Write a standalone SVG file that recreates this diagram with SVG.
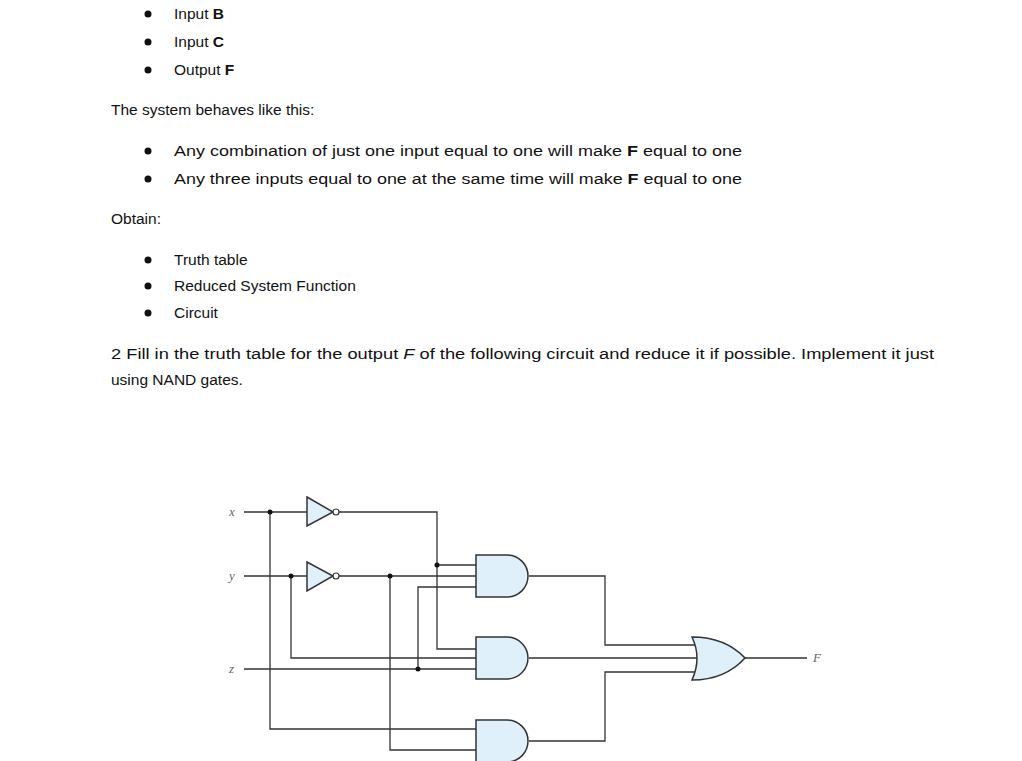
<svg xmlns="http://www.w3.org/2000/svg" width="1022" height="761" viewBox="0 0 1022 761">
<style>
.t{font-family:"Liberation Sans",Arial,sans-serif;font-size:15.5px;fill:#111}
.b{font-weight:bold}
.lbl{font-family:"Liberation Serif",serif;font-style:italic;font-size:13px;fill:#666}
.w{fill:none;stroke:#333;stroke-width:1.3}
.g{fill:#dff0fb;stroke:#333;stroke-width:1.5}
.d{fill:#111}
</style>
<rect width="1022" height="761" fill="#fff"/>
<g id="text">
<circle class="d" cx="148" cy="14" r="3.5"/><text class="t" x="174" y="19">Input <tspan class="b">B</tspan></text>
<circle class="d" cx="148" cy="42" r="3.5"/><text class="t" x="174" y="47">Input <tspan class="b">C</tspan></text>
<circle class="d" cx="148" cy="70" r="3.5"/><text class="t" x="174" y="75">Output <tspan class="b">F</tspan></text>
<text class="t" x="111" y="115">The system behaves like this:</text>
<circle class="d" cx="148" cy="151" r="3.5"/><text class="t" x="174" y="156" textLength="568" lengthAdjust="spacingAndGlyphs">Any combination of just one input equal to one will make <tspan class="b">F</tspan> equal to one</text>
<circle class="d" cx="148" cy="179" r="3.5"/><text class="t" x="174" y="184" textLength="568" lengthAdjust="spacingAndGlyphs">Any three inputs equal to one at the same time will make <tspan class="b">F</tspan> equal to one</text>
<text class="t" x="111" y="224">Obtain:</text>
<circle class="d" cx="148" cy="260" r="3.5"/><text class="t" x="174" y="265">Truth table</text>
<circle class="d" cx="148" cy="286" r="3.5"/><text class="t" x="174" y="291">Reduced System Function</text>
<circle class="d" cx="148" cy="313" r="3.5"/><text class="t" x="174" y="318">Circuit</text>
<text class="t" x="111" y="359" textLength="823" lengthAdjust="spacingAndGlyphs">2 Fill in the truth table for the output <tspan font-style="italic">F</tspan> of the following circuit and reduce it if possible. Implement it just</text>
<text class="t" x="111" y="385">using NAND gates.</text>
</g>
<g id="labels">
<text class="lbl" x="229" y="516">x</text>
<text class="lbl" x="229" y="580">y</text>
<text class="lbl" x="229" y="673">z</text>
<text class="lbl" x="813" y="662">F</text>
</g>
<g id="connectors">
<path class="w" d="M244 512H307M339 512H437V649H476M437 565H476"/>
<path class="w" d="M244 576H307M339 576H476M390 576V750H476"/>
<path class="w" d="M291 576V658H476"/>
<path class="w" d="M244 669H476M418 669V587H476"/>
<path class="w" d="M270 512V729H476"/>
<path class="w" d="M529 576H605V645H697M529 658H700M529 741H605V672H697M745 658H807"/>
<circle class="d" cx="270" cy="512" r="2.5"/>
<circle class="d" cx="437" cy="565" r="2.5"/>
<circle class="d" cx="291" cy="576" r="2.5"/>
<circle class="d" cx="390" cy="576" r="2.5"/>
<circle class="d" cx="418" cy="669" r="2.5"/>
</g>
<g id="not1"><path class="g" d="M307 497L333 512L307 526Z"/><circle cx="336" cy="512" r="3" fill="#fff" stroke="#333" stroke-width="1.2"/></g>
<g id="not2"><path class="g" d="M307 562L333 576L307 591Z"/><circle cx="336" cy="576" r="3" fill="#fff" stroke="#333" stroke-width="1.2"/></g>
<g id="and1"><path class="g" d="M476 555H507A21 21 0 0 1 507 597H476Z"/></g>
<g id="and2"><path class="g" d="M476 637H507A21 21 0 0 1 507 679H476Z"/></g>
<g id="and3"><path class="g" d="M476 720H507A21 21 0 0 1 507 762H476Z"/></g>
<g id="or1"><path class="g" d="M692 637Q725 637 745 658Q725 680 692 680Q702 658 692 637Z"/></g>
</svg>
